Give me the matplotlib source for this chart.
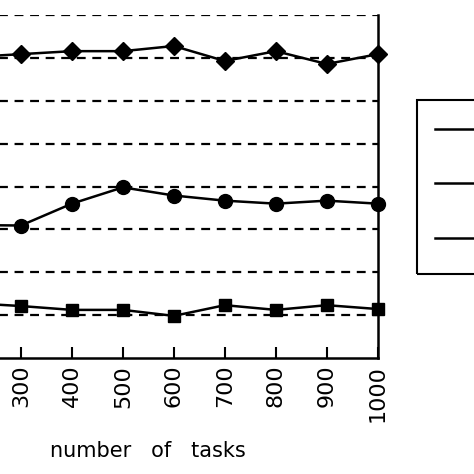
import matplotlib
matplotlib.use("Agg")
import matplotlib.pyplot as plt
from matplotlib.patches import Rectangle
from matplotlib.lines import Line2D

tasks = [100, 200, 300, 400, 500, 600, 700, 800, 900, 1000]
diamond = [7.0, 7.02, 7.09, 7.16, 7.16, 7.28, 6.93, 7.16, 6.86, 7.09]
circle = [3.2, 3.1, 3.09, 3.6, 3.98, 3.79, 3.67, 3.6, 3.67, 3.6]
square = [1.3, 1.28, 1.21, 1.12, 1.12, 0.98, 1.23, 1.12, 1.23, 1.14]
xtick_labels = [str(t) for t in tasks]

fig = plt.figure(figsize=(4.74, 4.74), dpi=100)
ax = fig.add_axes([-0.171, 0.245, 0.968, 0.723])
ax.set_xlim(100, 1000)
ax.set_ylim(0, 8)
for y in range(1, 9):
    ax.axhline(y, color='black', ls=(0, (4, 3)), lw=1.6, zorder=1)
ax.plot(tasks, diamond, 'k-', marker='D', ms=9, lw=1.8, clip_on=False, zorder=3)
ax.plot(tasks, circle, 'k-', marker='o', ms=10, lw=1.8, clip_on=False, zorder=3)
ax.plot(tasks, square, 'k-', marker='s', ms=9, lw=1.8, clip_on=False, zorder=3)
ax.spines['top'].set_visible(False)
for s in ['left', 'right', 'bottom']:
    ax.spines[s].set_linewidth(1.8)
ax.set_xticks(tasks)
ax.set_xticklabels(xtick_labels, rotation=90, fontsize=16, va='top')
ax.tick_params(axis='x', direction='in', length=8, width=1.5, pad=5)
ax.set_yticks([])
ax.set_xlabel('number   of   tasks', fontsize=15, labelpad=14)

fig.patches.append(Rectangle((417/474, 1-274/474), 0.2, 174/474, transform=fig.transFigure,
                             fill=False, ec='black', lw=1.5))
for yp in [129, 183, 238]:
    fig.lines.append(Line2D([435/474, 1.0], [1-yp/474]*2, transform=fig.transFigure,
                            color='black', lw=1.8))
fig.savefig('out.png', dpi=100)
